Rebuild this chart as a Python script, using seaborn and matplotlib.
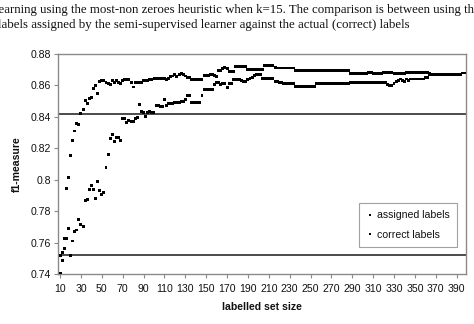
import matplotlib
matplotlib.use("Agg")
import matplotlib.pyplot as plt
import numpy as np
import pandas as pd
import seaborn as sns
from matplotlib.ticker import FixedLocator, FuncFormatter

# labelled set size: one evaluation every 2 examples
set_size = list(range(10, 400, 2))

# f1 when training on the labels the semi-supervised learner assigned
assigned = [
    0.7405, 0.7483, 0.7560, 0.7628, 0.7687, 0.7515, 0.7610, 0.7670, 0.7680, 0.7744,
    0.7718, 0.7700, 0.7867, 0.7875, 0.7940, 0.7962, 0.7940, 0.7880, 0.7988, 0.7930,
    0.7908, 0.7918, 0.8075, 0.8160, 0.8260, 0.8285, 0.8246, 0.8270, 0.8270, 0.8250,
    0.8390, 0.8390, 0.8367, 0.8375, 0.8370, 0.8370, 0.8387, 0.8395, 0.8480, 0.8437,
    0.8430, 0.8400, 0.8425, 0.8437, 0.8425, 0.8425, 0.8470, 0.8470, 0.8468, 0.8465,
    0.8510, 0.8470, 0.8486, 0.8486, 0.8488, 0.8490, 0.8492, 0.8494, 0.8496, 0.8500,
    0.8508, 0.8535, 0.8535, 0.8493, 0.8493, 0.8493, 0.8493, 0.8493, 0.8535, 0.8577,
    0.8575, 0.8575, 0.8572, 0.8575, 0.8607, 0.8618, 0.8618, 0.8605, 0.8612, 0.8615,
    0.8588, 0.8613, 0.8613, 0.8635, 0.8635, 0.8635, 0.8635, 0.8630, 0.8623, 0.8623,
    0.8640, 0.8645, 0.8650, 0.8665, 0.8668, 0.8670, 0.8668, 0.8647, 0.8647, 0.8647,
    0.8647, 0.8647, 0.8647, 0.8627, 0.8627, 0.8618, 0.8618, 0.8610, 0.8610, 0.8610,
    0.8610, 0.8610, 0.8610, 0.8596, 0.8596, 0.8596, 0.8596, 0.8596, 0.8596, 0.8596,
    0.8596, 0.8596, 0.8596, 0.8610, 0.8610, 0.8610, 0.8610, 0.8610, 0.8610, 0.8610,
    0.8610, 0.8610, 0.8610, 0.8610, 0.8610, 0.8610, 0.8610, 0.8610, 0.8610, 0.8620,
    0.8620, 0.8620, 0.8620, 0.8620, 0.8620, 0.8620, 0.8620, 0.8620, 0.8620, 0.8620,
    0.8620, 0.8620, 0.8620, 0.8620, 0.8620, 0.8620, 0.8620, 0.8608, 0.8600, 0.8600,
    0.8615, 0.8625, 0.8633, 0.8641, 0.8630, 0.8625, 0.8641, 0.8630, 0.8641, 0.8641,
    0.8641, 0.8641, 0.8641, 0.8641, 0.8641, 0.8648, 0.8650, 0.8671, 0.8671, 0.8671,
    0.8671, 0.8671, 0.8671, 0.8671, 0.8671, 0.8671, 0.8671, 0.8671, 0.8671, 0.8671,
    0.8671, 0.8671, 0.8671, 0.8679, 0.8679,
]

# f1 when training on the actual (correct) labels
correct = [
    0.7515, 0.7538, 0.7628, 0.7944, 0.8017, 0.8153, 0.8248, 0.8310, 0.8357, 0.8350,
    0.8423, 0.8446, 0.8507, 0.8488, 0.8516, 0.8522, 0.8582, 0.8600, 0.8550, 0.8624,
    0.8630, 0.8630, 0.8620, 0.8615, 0.8605, 0.8630, 0.8620, 0.8630, 0.8620, 0.8610,
    0.8630, 0.8640, 0.8640, 0.8640, 0.8620, 0.8590, 0.8620, 0.8620, 0.8620, 0.8620,
    0.8630, 0.8630, 0.8630, 0.8637, 0.8640, 0.8645, 0.8647, 0.8647, 0.8647, 0.8645,
    0.8642, 0.8640, 0.8647, 0.8655, 0.8660, 0.8668, 0.8655, 0.8668, 0.8675, 0.8668,
    0.8660, 0.8652, 0.8652, 0.8635, 0.8635, 0.8635, 0.8638, 0.8640, 0.8635, 0.8665,
    0.8665, 0.8665, 0.8670, 0.8672, 0.8662, 0.8655, 0.8692, 0.8697, 0.8707, 0.8717,
    0.8710, 0.8690, 0.8690, 0.8690, 0.8722, 0.8722, 0.8722, 0.8722, 0.8722, 0.8718,
    0.8702, 0.8702, 0.8702, 0.8702, 0.8702, 0.8702, 0.8702, 0.8702, 0.8728, 0.8728,
    0.8728, 0.8728, 0.8728, 0.8715, 0.8711, 0.8711, 0.8711, 0.8711, 0.8711, 0.8711,
    0.8711, 0.8711, 0.8711, 0.8692, 0.8692, 0.8692, 0.8692, 0.8692, 0.8692, 0.8692,
    0.8692, 0.8692, 0.8692, 0.8692, 0.8692, 0.8692, 0.8692, 0.8692, 0.8692, 0.8692,
    0.8692, 0.8692, 0.8692, 0.8692, 0.8692, 0.8692, 0.8692, 0.8692, 0.8692, 0.8677,
    0.8675, 0.8675, 0.8675, 0.8675, 0.8675, 0.8675, 0.8675, 0.8675, 0.8683, 0.8680,
    0.8677, 0.8677, 0.8677, 0.8677, 0.8677, 0.8684, 0.8684, 0.8684, 0.8684, 0.8684,
    0.8678, 0.8674, 0.8674, 0.8674, 0.8674, 0.8674, 0.8683, 0.8683, 0.8683, 0.8683,
    0.8683, 0.8683, 0.8683, 0.8683, 0.8683, 0.8683, 0.8683, 0.8678, 0.8671, 0.8671,
    0.8671, 0.8671, 0.8671, 0.8671, 0.8671, 0.8671, 0.8671, 0.8671, 0.8671, 0.8671,
    0.8671, 0.8671, 0.8671, 0.8679, 0.8679,
]

# reference levels drawn as horizontal rules
baselines = [0.8418, 0.7521]

series_names = ["assigned labels", "correct labels"]
x_ticks = list(range(10, 400, 20))
y_ticks = [0.74, 0.76, 0.78, 0.80, 0.82, 0.84, 0.86, 0.88]

caption_lines = [
    "learning using the most-non zeroes heuristic when k=15. The comparison is between using the",
    "labels assigned by the semi-supervised learner against the actual (correct) labels",
]

df = pd.DataFrame({
    "labelled set size": set_size * 2,
    "f1-measure": assigned + correct,
    "series": [series_names[0]] * len(assigned) + [series_names[1]] * len(correct),
})

sns.set_theme(style="white")
plt.rcParams["font.family"] = ["Liberation Sans", "DejaVu Sans"]

W, H = 474, 324
fig = plt.figure(figsize=(W / 100, H / 100), dpi=100)
ax = fig.add_axes([58 / W, 1 - 274 / H, (466 - 58) / W, (274 - 54) / H])

for yv in baselines:
    ax.axhline(yv, color="#1a1a1a", lw=1.1, zorder=1)

sns.scatterplot(
    data=df, x="labelled set size", y="f1-measure", hue="series",
    palette={series_names[0]: "black", series_names[1]: "black"},
    marker="s", s=4.5, linewidth=0, ax=ax, zorder=3, legend=True,
)

ax.set_xlim(8, 399)
ax.set_ylim(0.74, 0.88)
ax.xaxis.set_major_locator(FixedLocator(x_ticks))
ax.yaxis.set_major_locator(FixedLocator(y_ticks))
ax.yaxis.set_major_formatter(FuncFormatter(lambda v, p: "0.8" if abs(v - 0.8) < 1e-9 else f"{v:.2f}"))

for side in ["top", "right", "left", "bottom"]:
    ax.spines[side].set_color("#8a8a8a")
    ax.spines[side].set_linewidth(1.0)

ax.tick_params(axis="both", which="major", direction="out", length=3, width=0.8,
               color="#8a8a8a", labelsize=7.6, labelcolor="#111111",
               left=True, bottom=True)
ax.tick_params(axis="y", pad=2)
ax.tick_params(axis="x", pad=4)

ax.set_xlabel("labelled set size", fontsize=7.6, fontweight="bold", color="#111111", labelpad=6)
ax.set_ylabel("f1-measure", fontsize=7.6, fontweight="bold", color="#111111", labelpad=6)

handles, labels = ax.get_legend_handles_labels()
leg = ax.legend(handles, labels, loc="upper left", bbox_to_anchor=(0.738, 0.323),
                frameon=True, fancybox=False, fontsize=7.6, markerscale=1.0,
                handlelength=0.6, handletextpad=0.4, borderpad=0.7, labelspacing=0.9,
                borderaxespad=0)
leg.get_frame().set_edgecolor("#8a8a8a")
leg.get_frame().set_linewidth(0.8)
for t in leg.get_texts():
    t.set_color("#111111")

# two lines of the surrounding caption, cut by the figure edges
fig.text(-0.010, 1 - 13 / H, caption_lines[0], family=["Liberation Serif", "DejaVu Serif"],
         fontsize=9.25, color="#111111", va="baseline", ha="left")
fig.text(-0.005, 1 - 28 / H, caption_lines[1], family=["Liberation Serif", "DejaVu Serif"],
         fontsize=9.25, color="#111111", va="baseline", ha="left")

fig.savefig("out.png", dpi=100)
